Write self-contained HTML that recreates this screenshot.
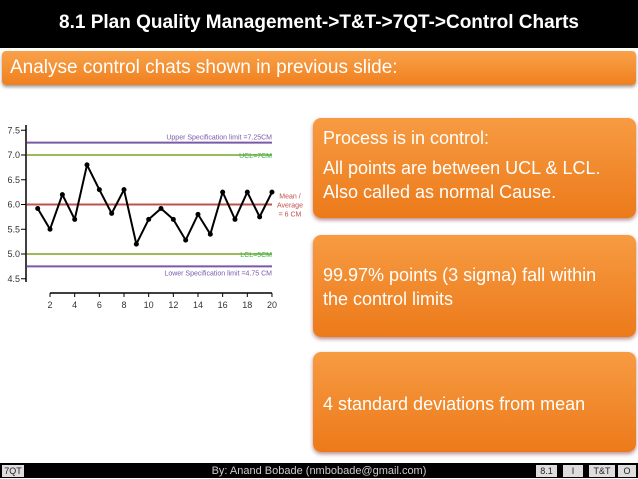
<!DOCTYPE html>
<html><head><meta charset="utf-8"><style>
body{margin:0;width:638px;height:478px;overflow:hidden;background:#fff;font-family:"Liberation Sans",sans-serif;position:relative}
.t{position:absolute;left:0;top:0;width:638px;height:48px;background:#000;color:#fff;font-size:19px;font-weight:bold;text-align:center;line-height:46px}
.o{position:absolute;left:2px;top:51px;width:634px;height:34px;border-radius:4px;background:linear-gradient(#f9a24a,#f0801e);color:#fff;font-size:19px;line-height:34px;text-indent:8px;box-shadow:0 2px 3px #999}
.b{position:absolute;left:313px;width:323px;border-radius:8px;background:linear-gradient(#f79b42,#ec7a1a);color:#fff;font-size:18px;line-height:24px;padding:0 10px;box-sizing:border-box;box-shadow:0 2px 4px #b88}
.f{position:absolute;left:0;top:463px;width:638px;height:15px;background:#000;color:#ccc;font-size:11px;line-height:16px;text-align:center}
.fb{position:absolute;top:465px;height:12px;background:#ddd;color:#222;font-size:9px;line-height:12px;text-align:center}
</style></head><body>
<div class="t">8.1 Plan Quality Management-&gt;T&amp;T-&gt;7QT-&gt;Control Charts</div>
<div class="o">Analyse control chats shown in previous slide:</div>
<svg id="c" width="312" height="320" style="position:absolute;left:0;top:110px" viewBox="0 110 312 320"></svg>
<div class="b" style="top:118px;height:100px;padding-top:8px">Process is in control:<div style="height:6px"></div>All points are between UCL &amp; LCL.<br>Also called as normal Cause.</div>
<div class="b" style="top:235px;height:102px;padding-top:28px">99.97% points (3 sigma) fall within the control limits</div>
<div class="b" style="top:352px;height:100px;padding-top:40px">4 standard deviations from mean</div>
<div class="f">By: Anand Bobade (nmbobade@gmail.com)</div>
<div class="fb" style="left:2px;width:22px">7QT</div>
<div class="fb" style="left:536px;width:21px">8.1</div>
<div class="fb" style="left:563px;width:20px">I</div>
<div class="fb" style="left:589px;width:26px">T&amp;T</div>
<div class="fb" style="left:618px;width:18px">O</div>
<script>
const xs=[1,2,3,4,5,6,7,8,9,10,11,12,13,14,15,16,17,18,19,20];
const values=[5.92,5.5,6.2,5.7,6.8,6.3,5.82,6.3,5.2,5.7,5.92,5.7,5.28,5.8,5.4,6.25,5.7,6.25,5.75,6.25];
const yTicks=[4.5,5.0,5.5,6.0,6.5,7.0,7.5];
const xTicks=[2,4,6,8,10,12,14,16,18,20];
const limitValues=[7.25,7,6,5,4.75];
const limitLabels=["Upper Specification limit =7.25CM","UCL=7CM","","LCL=5CM","Lower Specification limit =4.75 CM"];
const ns="http://www.w3.org/2000/svg",s=document.getElementById('c');
const X=v=>37.7+(v-1)*12.33, Y=v=>204.5-(v-6)*49.5;
function el(t,a,txt){const e=document.createElementNS(ns,t);for(const k in a)e.setAttribute(k,a[k]);if(txt!=null)e.textContent=txt;s.appendChild(e);return e;}
const cols=["#7a5aa8","#9bbb59","#c0504d","#9bbb59","#7a5aa8"];
const tcols=["#7a5aa8","#2db34a","#c0504d","#2db34a","#7a5aa8"];
limitValues.forEach((v,i)=>{let e=el('line',{x1:27,x2:272,y1:Y(v),y2:Y(v),stroke:cols[i],'stroke-width':2});

if(limitLabels[i]){let t=el('text',{x:272,y:Y(v)-3,'text-anchor':'end','font-size':7,fill:tcols[i]},limitLabels[i]);
if(i==4)t.setAttribute('y',Y(v)+9);if(i==3)t.setAttribute('y',Y(v)+3);if(i==1)t.setAttribute('y',Y(v)+3);
}});
[["Mean /",-6],["Average",3],["= 6 CM",12]].forEach(a=>{let t=el('text',{x:290,y:Y(6)+a[1],'text-anchor':'middle','font-size':7,fill:'#c0504d'},a[0]);});
let ax=el('line',{x1:26,x2:26,y1:125,y2:282,stroke:'#000','stroke-width':1.5});
yTicks.forEach(v=>{el('line',{x1:21,x2:26,y1:Y(v),y2:Y(v),stroke:'#000'});let t=el('text',{x:20,y:Y(v)+3,'text-anchor':'end','font-size':9,fill:'#333'},v.toFixed(1));});
let xa=el('line',{x1:X(2),x2:X(20),y1:293,y2:293,stroke:'#000','stroke-width':1.5});
xTicks.forEach(v=>{el('line',{x1:X(v),x2:X(v),y1:293,y2:297,stroke:'#000'});let t=el('text',{x:X(v),y:308,'text-anchor':'middle','font-size':9,fill:'#333'},v);});
let p=el('polyline',{points:values.map((v,i)=>X(xs[i])+','+Y(v)).join(' '),fill:'none',stroke:'#000','stroke-width':2});

values.forEach((v,i)=>{let c=el('circle',{cx:X(xs[i]),cy:Y(v),r:2.5,fill:'#000'});});
</script>
</body></html>
